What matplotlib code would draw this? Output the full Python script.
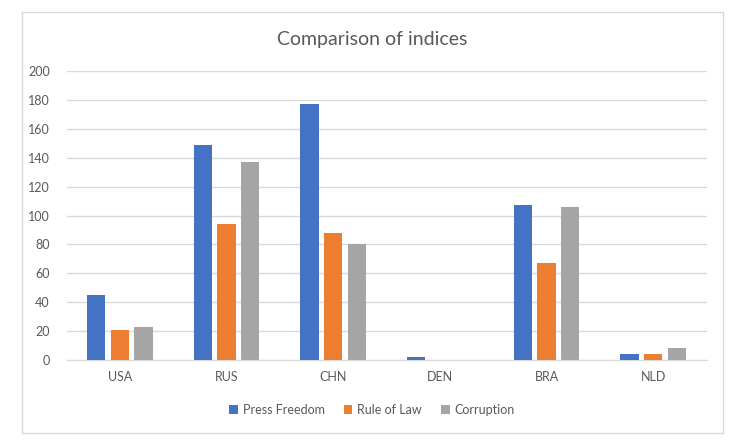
import numpy as np
import matplotlib
matplotlib.use("Agg")
import matplotlib.pyplot as plt
from matplotlib.patches import Rectangle

plt.rcParams['font.family'] = ['Lato', 'DejaVu Sans']

countries = ['USA', 'RUS', 'CHN', 'DEN', 'BRA', 'NLD']
press_freedom = [45, 149, 177, 2, 107, 4]
rule_of_law = [21, 94, 88, 0, 67, 4]
corruption = [23, 137, 80, 0, 106, 8]
series_names = ['Press Freedom', 'Rule of Law', 'Corruption']
colors = ['#4472C4', '#ED7D31', '#A5A5A5']
yticks = [0, 20, 40, 60, 80, 100, 120, 140, 160, 180, 200]

fig = plt.figure(figsize=(7.51, 4.48), dpi=100)
# chart border like excel
fig.patches.append(Rectangle((22 / 751, 1 - 433 / 448), 701 / 751, 421 / 448,
                             transform=fig.transFigure, fill=False,
                             edgecolor='#D9D9D9', linewidth=1))

ax = fig.add_axes([66.5 / 751, 1 - 360 / 448, 640 / 751, 289 / 448])

x = np.arange(len(countries))
w = 1 / 5.73
off = 1.27 * w
for i, (vals, name) in enumerate(zip([press_freedom, rule_of_law, corruption], series_names)):
    ax.bar(x + (i - 1) * off, vals, width=w, color=colors[i], label=name, zorder=3)

ax.set_xlim(-0.5, len(countries) - 0.5)
ax.set_ylim(0, 200)
ax.set_yticks(yticks)
ax.set_xticks(x)
ax.set_xticklabels(countries)
ax.grid(axis='y', color='#D9D9D9', linewidth=1, zorder=0)
for s in ['top', 'right', 'left']:
    ax.spines[s].set_visible(False)
ax.spines['bottom'].set_color('#D9D9D9')
ax.tick_params(axis='both', length=0, labelsize=9, colors='#595959')
ax.tick_params(axis='y', pad=12)
ax.tick_params(axis='x', pad=8)

fig.text(372 / 751, 1 - 40 / 448, 'Comparison of indices', ha='center', va='center',
         fontsize=14, color='#595959')

fig.legend(loc='center', bbox_to_anchor=(372 / 751, 1 - 410 / 448), ncol=3,
           frameon=False, fontsize=9, labelcolor='#595959', handlelength=0.7,
           handleheight=0.7, handletextpad=0.4, columnspacing=1.5)

fig.savefig('out.png', dpi=100)
